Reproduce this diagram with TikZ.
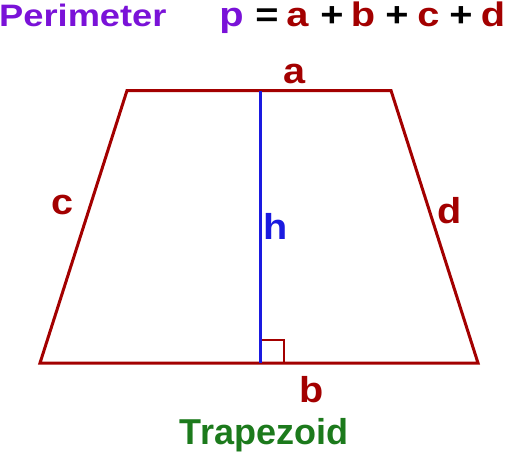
\documentclass[tikz,border=0pt]{standalone}
\usepackage{fontspec}
\setmainfont{Liberation Sans}
\newfontfamily\stretchfont[FakeStretch=1.17]{Liberation Sans}
\newfontfamily\widefont[FakeStretch=1.1]{Liberation Sans}
\definecolor{tred}{HTML}{A30000}
\definecolor{tblue}{HTML}{1A1AE0}
\definecolor{tpurple}{HTML}{7A12D8}
\definecolor{tgreen}{HTML}{1C7A1C}
\begin{document}
\begin{tikzpicture}[x=1pt,y=-1pt,
  edge/.style={draw=tred,line width=3pt,line join=miter},
  lbl/.style={anchor=base,inner sep=0pt,font=\widefont\bfseries\fontsize{36}{40}\selectfont},
  top/.style={anchor=base,inner sep=0pt,font=\stretchfont\bfseries\fontsize{34}{38}\selectfont}]
\useasboundingbox (0,0) rectangle (505,451);
\coordinate (tl) at (127,90.5);
\coordinate (tr) at (391,90.5);
\coordinate (br) at (478,363);
\coordinate (bl) at (40,363);
\coordinate (ht) at (260,90.5);
\coordinate (hb) at (260,363);
\coordinate (sq1) at (260,340);
\coordinate (sq2) at (284,340);
\coordinate (sq3) at (284,363);
\draw[edge] (tl) -- (tr) -- (br) -- (bl) -- cycle;
\draw[draw=tred,line width=2.6pt] (sq1) -- (sq2) -- (sq3);
\draw[draw=tblue,line width=3pt] (ht) -- (hb);
% labels
\node[lbl,text=tred] (la) at (295,83) {a};
\node[lbl,text=tred] (lc) at (62.5,214) {c};
\node[lbl,text=tblue] (lh) at (276,239) {h};
\node[lbl,text=tred] (ld) at (450,223) {d};
\node[lbl,text=tred] (lb) at (312,402) {b};
\node[lbl,text=tgreen,font=\bfseries\fontsize{36}{40}\selectfont] (title) at (264,444.5) {Trapezoid};
% top line
\node[anchor=base west,inner sep=0pt,text=tpurple,font=\stretchfont\bfseries\fontsize{31}{36}\selectfont] (per) at (-1,26.7) {Perimeter};
\node[top,text=tpurple] (fp) at (231.5,26.7) {p};
\node[top,text=black] (fe) at (267,26.7) {=};
\node[top,text=tred] (fa) at (297.5,26.7) {a};
\node[top,text=black] (f1) at (332,26.7) {+};
\node[top,text=tred] (fb) at (363,26.7) {b};
\node[top,text=black] (f2) at (397,26.7) {+};
\node[top,text=tred] (fc) at (428.5,26.7) {c};
\node[top,text=black] (f3) at (461,26.7) {+};
\node[top,text=tred] (fd) at (493,26.7) {d};
\end{tikzpicture}
\end{document}
